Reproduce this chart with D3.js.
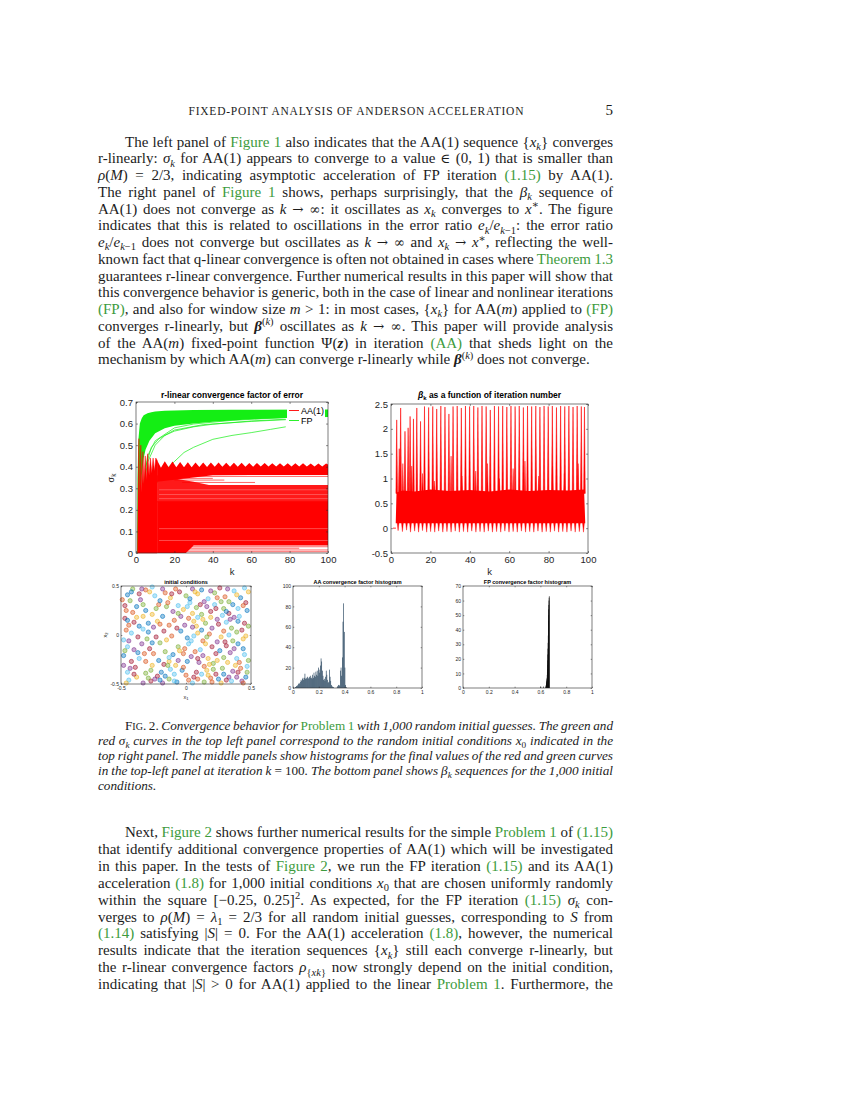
<!DOCTYPE html>
<html>
<head>
<meta charset="utf-8">
<script src="https://cdn.jsdelivr.net/npm/d3@7"></script>
<style>
  body { margin: 0; background: #fff; }
  svg { display: block; }
</style>
</head>
<body>
<svg id="page" width="850" height="1100"></svg>
<script>
// ---------------------------------------------------------------------------
// page text (markup: ‹›green link, «»italic toggle, ⌊⌋sub, ⌈⌉sup, ⟦⟧bold, ⟨⟩small caps)
// ---------------------------------------------------------------------------
var headerText = "FIXED-POINT ANALYSIS OF ANDERSON ACCELERATION";
var pageNumber = "5";

var para1 = [
  "The left panel of ‹Figure 1› also indicates that the AA(1) sequence {«x»⌊«k»⌋} converges",
  "r-linearly: «σ»⌊«k»⌋ for AA(1) appears to converge to a value ∈ (0, 1) that is smaller than",
  "«ρ»(«M») = 2/3, indicating asymptotic acceleration of FP iteration ‹(1.15)› by AA(1).",
  "The right panel of ‹Figure 1› shows, perhaps surprisingly, that the «β»⌊«k»⌋ sequence of",
  "AA(1) does not converge as «k» → ∞: it oscillates as «x»⌊«k»⌋ converges to «x»⌈∗⌉. The figure",
  "indicates that this is related to oscillations in the error ratio «e»⌊«k»⌋/«e»⌊«k»−1⌋: the error ratio",
  "«e»⌊«k»⌋/«e»⌊«k»−1⌋ does not converge but oscillates as «k» → ∞ and «x»⌊«k»⌋ → «x»⌈∗⌉, reflecting the well-",
  "known fact that q-linear convergence is often not obtained in cases where ‹Theorem 1.3›",
  "guarantees r-linear convergence. Further numerical results in this paper will show that",
  "this convergence behavior is generic, both in the case of linear and nonlinear iterations",
  "‹(FP)›, and also for window size «m» > 1: in most cases, {«x»⌊«k»⌋} for AA(«m») applied to ‹(FP)›",
  "converges r-linearly, but ⟦β⟧⌈(«k»)⌉ oscillates as «k» → ∞. This paper will provide analysis",
  "of the AA(«m») fixed-point function Ψ(⟦z⟧) in iteration ‹(AA)› that sheds light on the",
  "mechanism by which AA(«m») can converge r-linearly while ⟦β⟧⌈(«k»)⌉ does not converge."
];

var caption = [
  "«F⟨IG⟩. 2.» Convergence behavior for ‹«Problem 1»› with 1,000 random initial guesses. The green and",
  "red σ⌊k⌋ curves in the top left panel correspond to the random initial conditions x⌊«0»⌋ indicated in the",
  "top right panel. The middle panels show histograms for the final values of the red and green curves",
  "in the top-left panel at iteration k «= 100». The bottom panel shows β⌊k⌋ sequences for the 1,000 initial",
  "conditions."
];

var para2 = [
  "Next, ‹Figure 2› shows further numerical results for the simple ‹Problem 1› of ‹(1.15)›",
  "that identify additional convergence properties of AA(1) which will be investigated",
  "in this paper. In the tests of ‹Figure 2›, we run the FP iteration ‹(1.15)› and its AA(1)",
  "acceleration ‹(1.8)› for 1,000 initial conditions «x»⌊0⌋ that are chosen uniformly randomly",
  "within the square [−0.25, 0.25]⌈2⌉. As expected, for the FP iteration ‹(1.15)› «σ»⌊«k»⌋ con-",
  "verges to «ρ»(«M») = «λ»⌊1⌋ = 2/3 for all random initial guesses, corresponding to «S» from",
  "‹(1.14)› satisfying |«S»| = 0. For the AA(1) acceleration ‹(1.8)›, however, the numerical",
  "results indicate that the iteration sequences {«x»⌊«k»⌋} still each converge r-linearly, but",
  "the r-linear convergence factors «ρ»⌊{«xk»}⌋ now strongly depend on the initial condition,",
  "indicating that |«S»| > 0 for AA(1) applied to the linear ‹Problem 1›. Furthermore, the"
];

// ---------------------------------------------------------------------------
// top left panel: sigma_k
// ---------------------------------------------------------------------------
var sigmaXTicks = [0, 20, 40, 60, 80, 100];
var sigmaYTicks = [0, 0.1, 0.2, 0.3, 0.4, 0.5, 0.6, 0.7];

// FP (green) dense band, upper and lower edge [k, sigma]
var fpBandUpper = [[0.5,0],[0.8,0.35],[1.2,0.52],[2,0.6],[3,0.625],[4,0.638],[6,0.648],[8,0.653],
  [10,0.656],[15,0.659],[20,0.661],[30,0.663],[50,0.664],[100,0.665]];
var fpBandLower = [[100,0.63],[78,0.626],[60,0.62],[40,0.608],[30,0.6],[20,0.59],[15,0.578],
  [10,0.555],[7,0.52],[5,0.48],[4,0.44],[3,0.36],[2,0.2],[1.2,0],[0.5,0]];
// FP curves that stay below the band
var fpSlowCurves = [
  [[3,0.05],[5,0.15],[8,0.26],[10,0.31],[13,0.36],[16,0.39],[20,0.424],[25,0.466],[30,0.49],
   [40,0.527],[50,0.545],[60,0.558],[70,0.573],[78,0.585]],
  [[4,0.3],[6,0.42],[10,0.5],[15,0.545],[20,0.565],[30,0.585],[40,0.597],[60,0.612],[78,0.62]],
  [[3,0.25],[6,0.45],[10,0.52],[20,0.58],[30,0.598],[50,0.615],[78,0.628]],
  [[5,0.4],[8,0.49],[12,0.53],[20,0.57],[35,0.595],[60,0.61],[78,0.618]]
];

// AA(1) (red): early oscillation, then three bands
var aaEarlyUpper = [[0.8,0],[1.1,0.28],[1.5,0.53],[1.9,0.22],[2.5,0.5],[3.0,0.28],[3.6,0.47],
  [4.1,0.32],[4.8,0.45],[5.4,0.34],[6.1,0.46],[6.8,0.36],[7.5,0.44],[8.2,0.37],[8.9,0.44],
  [9.6,0.38],[10.3,0.44],[11,0.43]];
var aaEarlyLower = [[11,0],[0.8,0]];

var aaTopK = [11,13,15,17,19,21,23,25,27,29,31,33,35,37,39,41,43,45,47,49,51,53,55,57,59,
  61,63,65,67,69,71,73,75,77,79,81,83,85,87,89,91,93,95,97,99,100];
var aaTopV = [0.43,0.395,0.425,0.397,0.424,0.397,0.422,0.398,0.421,0.398,0.42,0.399,0.42,0.399,
  0.419,0.4,0.419,0.4,0.418,0.4,0.418,0.4,0.418,0.4,0.417,0.4,0.417,0.401,0.417,0.401,0.416,
  0.401,0.416,0.401,0.416,0.401,0.416,0.401,0.416,0.401,0.415,0.401,0.415,0.401,0.415,0.41];
var aaTopLower = [[100,0.362],[60,0.362],[40,0.36],[30,0.35],[20,0.34],[11,0.33]];
var aaMidUpper = [[11,0.36],[20,0.345],[30,0.33],[38,0.315],[100,0.315]];
var aaMidLower = [[100,0.235],[11,0.235]];
var aaLowUpper = [[11,0.24],[100,0.24]];
var aaLowLower = [[100,0.035],[30,0.035],[26,0],[11,0]];
// single AA curves in the sparse zones [k start, k end, sigma]
var aaLoneCurves = [[14,100,0.006],[18,100,0.014],[22,85,0.022],[16,100,0.029],
  [24,62,0.327],[20,46,0.338],[18,40,0.346],[26,100,0.355],
  [12,100,0.252],[12,100,0.271],[12,100,0.293],[12,100,0.058],[12,100,0.113]];

// ---------------------------------------------------------------------------
// top right panel: beta_k
// ---------------------------------------------------------------------------
var betaXTicks = [0, 20, 40, 60, 80, 100];
var betaYTicks = [-0.5, 0, 0.5, 1, 1.5, 2, 2.5];
var betaStart = [[1,0],[2.5,0]];
var betaBandUpper = [[2.4,0.1],[2.8,0.72],[6,0.76],[12,0.74],[20,0.78],[30,0.75],[40,0.77],
  [50,0.74],[60,0.78],[70,0.75],[80,0.77],[90,0.76],[98,0.78],[98.6,0.1]];
var betaBandLower = [[98.6,0.1],[2.4,0.1]];
var betaSpikes = [[2.9,2.18],[4.2,1.6],[4.9,2.42],[7.1,1.95],[8.7,2.02],[9.7,2.25],[11.4,2.2],
  [13.1,2.42],[15,2.15],[17,2.45],[19.1,2.43],[21.2,2.45],[23.2,2.4],[25.3,2.46],[27.4,2.44],
  [29.4,2.3],[31.5,2.45],[33.6,2.46],[35.7,2.42],[37.8,2.46],[39.9,2.45],[42,2.46],[44.1,2.43],
  [46.2,2.46],[48.3,2.45],[50.4,2.38],[52.5,2.46],[54.6,2.45],[56.7,2.46],[58.8,2.44],[60.9,2.46],
  [63,2.45],[65.1,2.46],[67.2,2.43],[69.3,2.46],[71.4,2.45],[73.5,2.46],[75.6,2.44],[77.7,2.46],
  [79.8,2.45],[81.9,2.46],[84,2.43],[86.1,2.46],[88.2,2.45],[90.3,2.46],[92.4,2.44],[94.5,2.46],
  [96.6,2.45],[98.2,2.44]];
var betaMinor = [[6,1.3],[10.5,1.25],[16,1.1],[22,0.95],[30.5,1.45],[36,1.05],[43,1.15],[49,1.3],
  [55,1.0],[62,1.2],[68,1.35],[75,1.05],[82,1.25],[88,1.1],[95,1.3]];
var betaDips = [[3.6,-0.05],[5.8,-0.07],[7.9,-0.04],[9.9,-0.08],[12,-0.06],[14,-0.08],[16,-0.05],
  [18.1,-0.08],[20.1,-0.07],[22.2,-0.08],[24.2,-0.06],[26.3,-0.08],[28.4,-0.07],[30.5,-0.08],
  [32.6,-0.06],[34.7,-0.08],[36.8,-0.07],[38.9,-0.08],[41,-0.06],[43.1,-0.08],[45.2,-0.07],
  [47.3,-0.08],[49.4,-0.06],[51.5,-0.08],[53.6,-0.07],[55.7,-0.08],[57.8,-0.06],[59.9,-0.08],
  [62,-0.07],[64.1,-0.08],[66.2,-0.06],[68.3,-0.08],[70.4,-0.07],[72.5,-0.08],[74.6,-0.06],
  [76.7,-0.08],[78.8,-0.07],[80.9,-0.08],[83,-0.06],[85.1,-0.08],[87.2,-0.07],[89.3,-0.08],
  [91.4,-0.06],[93.5,-0.08],[95.6,-0.07],[97.7,-0.08]];

// ---------------------------------------------------------------------------
// bottom panels
// ---------------------------------------------------------------------------
var icTicks = [-0.5, 0, 0.5];
var initialConditions = [
  [-0.45,0.41],[-0.31,0.46],[-0.12,0.38],[0.05,0.47],[0.22,0.43],[0.37,0.45],[0.46,0.33],
  [-0.38,0.29],[-0.21,0.31],[-0.02,0.26],[0.14,0.34],[0.29,0.27],[0.41,0.19],[-0.47,0.17],
  [-0.29,0.12],[-0.09,0.15],[0.08,0.09],[0.24,0.16],[0.35,0.07],[-0.42,0.02],[-0.17,0.04],
  [0.01,-0.03],[0.18,0.01],[0.44,-0.04],[-0.34,-0.09],[-0.06,-0.12],[0.11,-0.15],[0.31,-0.11],
  [-0.48,-0.21],[-0.25,-0.19],[-0.13,-0.27],[0.04,-0.22],[0.21,-0.29],[0.39,-0.24],[-0.39,-0.33],
  [-0.19,-0.38],[0.0,-0.41],[0.16,-0.36],[0.33,-0.43],[0.47,-0.38],[-0.44,-0.46],[-0.27,-0.47],
  [-0.07,-0.48],[0.09,-0.45],[0.27,-0.49],[0.43,-0.47],
  [-0.41,0.47],[-0.24,0.40],[-0.05,0.44],[0.12,0.46],[0.30,0.39],[0.48,0.44],[-0.35,0.36],
  [-0.15,0.29],[0.03,0.33],[0.19,0.24],[0.36,0.31],[-0.46,0.25],[-0.26,0.21],[-0.04,0.19],
  [0.12,0.21],[0.28,0.20],[0.45,0.12],[-0.36,0.09],[-0.13,0.10],[0.06,0.14],[0.20,0.07],
  [0.39,0.03],[-0.48,-0.05],[-0.23,-0.02],[-0.04,0.04],[0.13,-0.06],[0.27,-0.02],[-0.40,-0.15],
  [-0.16,-0.17],[0.02,-0.09],[0.23,-0.19],[0.44,-0.14],[-0.31,-0.27],[-0.08,-0.31],[0.10,-0.28],
  [0.28,-0.34],[-0.45,-0.38],[-0.22,-0.42],[-0.03,-0.36],[0.19,-0.44],[0.38,-0.31],[-0.33,-0.49],
  [-0.13,-0.45],[0.05,-0.49],[0.23,-0.40],[0.46,-0.43],
  [-0.49,0.36],[-0.28,0.44],[-0.18,0.47],[0.00,0.40],[0.17,0.37],[0.26,0.48],[0.42,0.38],
  [-0.41,0.23],[-0.33,0.19],[-0.10,0.24],[0.08,0.28],[0.22,0.31],[0.33,0.22],[0.47,0.25],
  [-0.44,0.10],[-0.22,0.14],[-0.01,0.10],[0.15,0.12],[0.31,0.13],[0.43,0.05],[-0.29,0.03],
  [-0.11,-0.01],[0.09,0.02],[0.24,-0.07],[0.36,-0.06],[-0.45,-0.12],[-0.28,-0.14],[-0.10,-0.20],
  [0.07,-0.17],[0.17,-0.24],[0.34,-0.18],[0.48,-0.26],[-0.36,-0.24],[-0.17,-0.30],[0.01,-0.27],
  [0.14,-0.32],[0.32,-0.28],[-0.48,-0.31],[-0.27,-0.36],[-0.09,-0.40],[0.08,-0.38],[0.25,-0.45],
  [0.42,-0.34],[-0.38,-0.43],[-0.18,-0.49],[0.14,-0.48],[0.35,-0.47],
  [-0.36,0.42],[-0.20,0.35],[-0.08,0.47],[0.09,0.42],[0.19,0.45],[0.33,0.34],[0.45,0.48],
  [-0.47,0.30],[-0.31,0.25],[-0.14,0.33],[0.05,0.22],[0.16,0.29],[0.27,0.34],[0.40,0.27],
  [-0.40,0.13],[-0.18,0.19],[0.02,0.17],[0.19,0.18],[0.34,0.16],[0.48,0.09],[-0.33,0.06],
  [-0.07,0.07],[0.12,0.05],[0.29,0.04],[0.46,-0.01],[-0.44,-0.06],[-0.20,-0.08],[0.04,-0.06],
  [0.20,-0.12],[0.40,-0.09],[-0.32,-0.19],[-0.05,-0.16],[0.13,-0.21],[0.29,-0.23],[0.45,-0.20],
  [-0.42,-0.27],[-0.21,-0.26],[-0.02,-0.33],[0.18,-0.30],[0.36,-0.37],[-0.31,-0.39],[-0.12,-0.35],
  [0.06,-0.43],[0.29,-0.40],[0.44,-0.49],[-0.46,-0.49],[-0.24,-0.45],
  [-0.43,0.35],[-0.26,0.49],[-0.11,0.42],[0.03,0.37],[0.24,0.38],[0.39,0.41],[-0.34,0.47],
  [-0.23,0.27],[-0.06,0.30],[0.11,0.31],[0.31,0.24],[0.44,0.30],[-0.38,0.18],[-0.25,0.08],
  [-0.06,0.22],[0.09,0.18],[0.25,0.11],[0.40,0.14],[-0.46,0.05],[-0.15,-0.05],[0.05,0.08],
  [0.16,-0.02],[0.33,0.00],[-0.37,-0.02],[-0.26,-0.08],[-0.01,-0.14],[0.15,-0.09],[0.37,-0.14],
  [-0.47,-0.16],[-0.13,-0.23],[0.09,-0.24],[0.26,-0.16],[0.41,-0.28],[-0.26,-0.31],[-0.06,-0.26],
  [0.21,-0.35],[0.47,-0.32],[-0.40,-0.40],[-0.16,-0.42],[0.02,-0.46],[0.17,-0.41],[0.39,-0.43],
  [-0.29,-0.44],[-0.09,-0.47],[0.31,-0.46],
  [-0.42,0.44],[-0.16,0.43],[0.07,0.44],[0.32,0.47],[-0.33,0.31],[0.01,0.29],[0.23,0.27],
  [-0.45,0.15],[-0.2,0.11],[0.13,0.16],[0.37,0.18],[-0.3,-0.04],[0.06,-0.01],[0.3,-0.07],
  [-0.37,-0.18],[-0.02,-0.19],[0.24,-0.26],[-0.43,-0.34],[-0.14,-0.31],[0.12,-0.4],[0.4,-0.38],
  [-0.2,-0.46],[0.2,-0.48]
];
var matlabColors = ["#0072BD","#D95319","#EDB120","#7E2F8E","#77AC30","#4DBEEE","#A2142F"];

var histXTicks = [0, 0.2, 0.4, 0.6, 0.8, 1];
var aaHistYTicks = [0, 20, 40, 60, 80, 100];
var aaBinStart = 0.015, aaBinWidth = 0.005;
var aaCounts = [1,1,2,2,3,4,5,4,6,8,7,9,10,8,10,14,9,10,9,11,10,9,11,10,12,10,9,13,10,15,12,11,
  16,13,17,12,20,18,15,22,29,26,17,12,8,9,7,11,17,13,8,5,6,18,11,7,3,2,1,1,0,0,0,0,0,1,2,3,3,2,
  17,20,12,30,65,83,55,20,3,1];

var fpHistYTicks = [0, 10, 20, 30, 40, 50, 60, 70];
var fpBins = [0.600, 0.621, 0.640,0.641,0.642,0.643,0.644,0.645,0.646,0.647,0.648,0.649,0.650,
  0.651,0.652,0.653,0.654,0.655,0.656,0.657,0.658,0.659,0.660,0.661,0.662,0.663,0.664,0.665,0.666];
var fpCounts = [1, 1, 1,1,2,2,3,3,4,5,6,7,9,11,13,16,19,23,27,31,36,41,46,50,54,57,60,62,63];
var fpBinWidth = 0.001;

// ---------------------------------------------------------------------------
var SERIF = "'Liberation Serif', 'DejaVu Serif', serif";
var MATHSYM = "'DejaVu Serif', serif";
var SANS = "'Liberation Sans', Arial, Helvetica, sans-serif";
var LINK = "#3d9b3d";
var INK = "#1c1c1c";
var AXC = "#262626";
var RED = "#ff0000", GREEN = "#14ee14";

var svg = d3.select("#page");

// draw one line of text with the small markup, justified to width if given
function richLine(g, str, x, y, o) {
	var t = g.append("text").attr("x", x).attr("y", y)
		.attr("font-family", SERIF).attr("font-size", o.size).attr("fill", INK);
	var ital = !!o.italic, green = false, sub = false, sup = false, bold = false, sc = false;
	var shift = 0, buf = "";
	function flush(sym) {
		if (!buf) return;
		var target = sub ? 0.22 * o.size : (sup ? -0.36 * o.size : 0);
		var ts = t.append("tspan").text(buf)
			.attr("font-style", ital && !sym ? "italic" : "normal")
			.attr("font-weight", bold ? "bold" : "normal");
		if (green) ts.attr("fill", LINK);
		if (sub || sup) ts.attr("font-size", o.size * 0.7);
		if (sc) ts.attr("font-size", o.size * 0.76);
		if (sym) ts.attr("font-family", MATHSYM).attr("font-size", o.size * 0.9);
		if (target !== shift) { ts.attr("dy", target - shift); shift = target; }
		buf = "";
	}
	for (var ch of str) {
		switch (ch) {
			case "‹": case "›": flush(); green = !green; break;
			case "«": case "»": flush(); ital = !ital; break;
			case "⌊": case "⌋": flush(); sub = !sub; break;
			case "⌈": case "⌉": flush(); sup = !sup; break;
			case "⟦": case "⟧": flush(); bold = !bold; ital = !ital; break;
			case "⟨": case "⟩": flush(); sc = !sc; break;
			case "→": case "∞": case "∈":
				flush(); buf = ch; flush(true); break;
			default: buf += ch;
		}
	}
	flush();
	if (o.width) {
		var nat = t.node().getComputedTextLength();
		var spaces = (str.match(/ /g) || []).length;
		if (spaces) t.attr("word-spacing", ((o.width - nat) / spaces).toFixed(3));
	}
	return t;
}

function paragraph(lines, top, step, o) {
	var g = svg.append("g");
	lines.forEach(function(s, i) {
		var indent = i === 0 ? 27 : 0;
		var last = i === lines.length - 1 && !o.justifyLast;
		richLine(g, s, 98 + indent, top + i * step,
			{ size: o.size, italic: o.italic, width: last ? null : 515 - indent });
	});
}

// running head
svg.append("text").attr("x", 356).attr("y", 115).attr("text-anchor", "middle")
	.attr("font-family", SERIF).attr("font-size", 11.5).attr("fill", INK)
	.attr("textLength", 335).attr("lengthAdjust", "spacing").text(headerText);
svg.append("text").attr("x", 613).attr("y", 115).attr("text-anchor", "end")
	.attr("font-family", SERIF).attr("font-size", 15).attr("fill", INK).text(pageNumber);

paragraph(para1, 146.5, 16.75, { size: 15 });
paragraph(caption, 730, 15.1, { size: 13.2, italic: true });
paragraph(para2, 837, 16.9, { size: 15, justifyLast: true });

// ---------------------------------------------------------------------------
// MATLAB-like boxed axes, ticks pointing in on all four sides
function boxAxes(g, x, y, o) {
	var xr = x.range(), yr = y.range();
	var fmt = function(d) { return String(+d.toFixed(2)); };
	function ax(gen, tr, labels) {
		var a = g.append("g").attr("transform", tr)
			.call(gen.tickSize(-o.tick).tickPadding(o.pad)
				.tickFormat(labels ? fmt : function() { return ""; }));
		a.select(".domain").remove();
		a.selectAll("line").attr("stroke", AXC).attr("stroke-width", 0.5);
		a.selectAll("text").attr("font-family", SANS).attr("font-size", o.font).attr("fill", AXC);
	}
	ax(d3.axisBottom(x).tickValues(o.xt), "translate(0," + yr[0] + ")", true);
	ax(d3.axisTop(x).tickValues(o.xt), "translate(0," + yr[1] + ")", false);
	ax(d3.axisLeft(y).tickValues(o.yt), "translate(" + xr[0] + ",0)", true);
	ax(d3.axisRight(y).tickValues(o.yt), "translate(" + xr[1] + ",0)", false);
	g.append("rect").attr("x", xr[0]).attr("y", yr[1])
		.attr("width", xr[1] - xr[0]).attr("height", yr[0] - yr[1])
		.attr("fill", "none").attr("stroke", AXC).attr("stroke-width", 0.6);
}

function title(g, x, y, size, txt) {
	return g.append("text").attr("x", x).attr("y", y).attr("text-anchor", "middle")
		.attr("font-family", SANS).attr("font-weight", "bold").attr("font-size", size)
		.attr("fill", "#000").text(txt);
}

// ---- top left: sigma_k ----------------------------------------------------
(function() {
	var g = svg.append("g");
	var x = d3.scaleLinear().domain([0, 100]).range([136, 328]);
	var y = d3.scaleLinear().domain([0, 0.7]).range([553, 402]);
	var line = d3.line().x(function(d) { return x(d[0]); }).y(function(d) { return y(d[1]); });
	var poly = function(up, lo) { return line(up.concat(lo)) + "Z"; };

	var plot = g.append("g");
	plot.append("path").attr("d", poly(fpBandUpper, fpBandLower)).attr("fill", GREEN);
	plot.selectAll(".fpslow").data(fpSlowCurves).enter().append("path")
		.attr("d", line).attr("fill", "none").attr("stroke", GREEN).attr("stroke-width", 0.7);

	var aaTop = aaTopK.map(function(k, i) { return [k, aaTopV[i]]; });
	plot.append("path").attr("d", poly(aaLowUpper, aaLowLower)).attr("fill", RED);
	plot.append("path").attr("d", poly(aaMidUpper, aaMidLower)).attr("fill", RED).attr("fill-opacity", 0.9);
	plot.append("path").attr("d", poly(aaTop, aaTopLower)).attr("fill", RED);
	plot.append("path").attr("d", poly(aaEarlyUpper, aaEarlyLower)).attr("fill", RED)
		.attr("stroke", RED).attr("stroke-width", 0.5);
	plot.selectAll(".aalone").data(aaLoneCurves).enter().append("path")
		.attr("d", function(d) { return line([[d[0], d[2]], [d[1], d[2]]]); })
		.attr("fill", "none").attr("stroke", function(d) { return d[2] > 0.04 && d[2] < 0.3 ? "#ff7a7a" : RED; })
		.attr("stroke-width", 0.6);

	// legend
	var lg = g.append("g");
	lg.append("rect").attr("x", 287).attr("y", 405).attr("width", 38).attr("height", 20).attr("fill", "#fff");
	lg.append("line").attr("x1", 289).attr("x2", 299).attr("y1", 410.5).attr("y2", 410.5)
		.attr("stroke", RED).attr("stroke-width", 0.9);
	lg.append("line").attr("x1", 289).attr("x2", 299).attr("y1", 420.5).attr("y2", 420.5)
		.attr("stroke", GREEN).attr("stroke-width", 0.9);
	lg.append("text").attr("x", 301).attr("y", 414).attr("font-family", SANS).attr("font-size", 9)
		.attr("fill", "#000").text("AA(1)");
	lg.append("text").attr("x", 301).attr("y", 424).attr("font-family", SANS).attr("font-size", 9)
		.attr("fill", "#000").text("FP");

	boxAxes(g, x, y, { xt: sigmaXTicks, yt: sigmaYTicks, tick: 2, pad: 3, font: 9.5 });
	title(g, 232, 397.5, 8.5, "r-linear convergence factor of error");
	g.append("text").attr("x", 232).attr("y", 575).attr("text-anchor", "middle")
		.attr("font-family", SANS).attr("font-size", 9.5).attr("fill", AXC).text("k");
	var yl = g.append("text").attr("transform", "translate(114,478) rotate(-90)")
		.attr("text-anchor", "middle").attr("font-family", SANS).attr("font-size", 9).attr("fill", AXC);
	yl.append("tspan").text("σ");
	yl.append("tspan").attr("font-size", 6.5).attr("dy", 2).text("k");
})();

// ---- top right: beta_k ----------------------------------------------------
(function() {
	var g = svg.append("g");
	var x = d3.scaleLinear().domain([0, 100]).range([391, 588]);
	var y = d3.scaleLinear().domain([-0.5, 2.5]).range([553, 404]);
	var line = d3.line().x(function(d) { return x(d[0]); }).y(function(d) { return y(d[1]); });

	g.append("path").attr("d", line(betaStart)).attr("stroke", RED).attr("stroke-width", 0.8).attr("fill", "none");
	g.append("path").attr("d", line(betaBandUpper.concat(betaBandLower)) + "Z").attr("fill", RED);
	var tri = function(base, w) {
		return function(d) { return line([[d[0] - w, base], [d[0], d[1]], [d[0] + w, base]]) + "Z"; };
	};
	g.selectAll(".minor").data(betaMinor).enter().append("path")
		.attr("d", tri(0.7, 0.35)).attr("fill", RED).attr("stroke", RED).attr("stroke-width", 0.45);
	g.selectAll(".spike").data(betaSpikes).enter().append("path")
		.attr("d", tri(0.7, 0.4)).attr("fill", RED).attr("stroke", RED).attr("stroke-width", 0.55);
	g.selectAll(".dip").data(betaDips).enter().append("path")
		.attr("d", tri(0.12, 0.5)).attr("fill", RED).attr("stroke", RED).attr("stroke-width", 0.4);

	boxAxes(g, x, y, { xt: betaXTicks, yt: betaYTicks, tick: 2, pad: 3, font: 9.5 });
	var t = title(g, 489.5, 397.5, 8.5, "");
	t.append("tspan").attr("font-style", "italic").text("β");
	t.append("tspan").attr("font-size", 6).attr("dy", 2).text("k");
	t.append("tspan").attr("dy", -2).text(" as a function of iteration number");
	g.append("text").attr("x", 489.5).attr("y", 575).attr("text-anchor", "middle")
		.attr("font-family", SANS).attr("font-size", 9.5).attr("fill", AXC).text("k");
})();

// ---- bottom left: initial conditions -------------------------------------
(function() {
	var g = svg.append("g");
	var x = d3.scaleLinear().domain([-0.5, 0.5]).range([121, 251]);
	var y = d3.scaleLinear().domain([-0.5, 0.5]).range([684, 586]);
	g.selectAll("circle").data(initialConditions).enter().append("circle")
		.attr("cx", function(d) { return x(d[0]); }).attr("cy", function(d) { return y(d[1]); })
		.attr("r", 2.1)
		.attr("fill", function(d, i) { return matlabColors[i % 7]; }).attr("fill-opacity", 0.4)
		.attr("stroke", function(d, i) { return matlabColors[i % 7]; }).attr("stroke-width", 0.8)
		.attr("stroke-opacity", 0.7);
	boxAxes(g, x, y, { xt: icTicks, yt: icTicks, tick: 1.3, pad: 2, font: 5 });
	title(g, 186, 584, 5.5, "initial conditions");
	var xl = g.append("text").attr("x", 186).attr("y", 699).attr("text-anchor", "middle")
		.attr("font-family", SANS).attr("font-size", 5.5).attr("fill", AXC);
	xl.append("tspan").text("x");
	xl.append("tspan").attr("font-size", 4).attr("dy", 1.2).text("1");
	var yl = g.append("text").attr("transform", "translate(107,635) rotate(-90)")
		.attr("text-anchor", "middle").attr("font-family", SANS).attr("font-size", 5.5).attr("fill", AXC);
	yl.append("tspan").text("x");
	yl.append("tspan").attr("font-size", 4).attr("dy", 1.2).text("2");
})();

// ---- bottom middle/right: histograms ------------------------------------
function histogram(x0, x1, ymax, yt, bins, counts, width, color, ttl) {
	var g = svg.append("g");
	var x = d3.scaleLinear().domain([0, 1]).range([x0, x1]);
	var y = d3.scaleLinear().domain([0, ymax]).range([688, 586]);
	g.selectAll("rect.bar").data(counts).enter().append("rect").attr("class", "bar")
		.attr("x", function(d, i) { return x(bins[i]); })
		.attr("width", Math.max(x(width) - x(0), 0.6))
		.attr("y", function(d) { return y(d); })
		.attr("height", function(d) { return y(0) - y(d); })
		.attr("fill", color);
	boxAxes(g, x, y, { xt: histXTicks, yt: yt, tick: 1.3, pad: 2, font: 5 });
	title(g, (x0 + x1) / 2, 584, 5.5, ttl);
}
var aaBins = aaCounts.map(function(c, i) { return aaBinStart + i * aaBinWidth; });
histogram(293, 422, 100, aaHistYTicks, aaBins, aaCounts, aaBinWidth, "#22405b", "AA convergence factor histogram");
histogram(463, 592, 70, fpHistYTicks, fpBins, fpCounts, fpBinWidth, "#111", "FP convergence factor histogram");
</script>
</body>
</html>
